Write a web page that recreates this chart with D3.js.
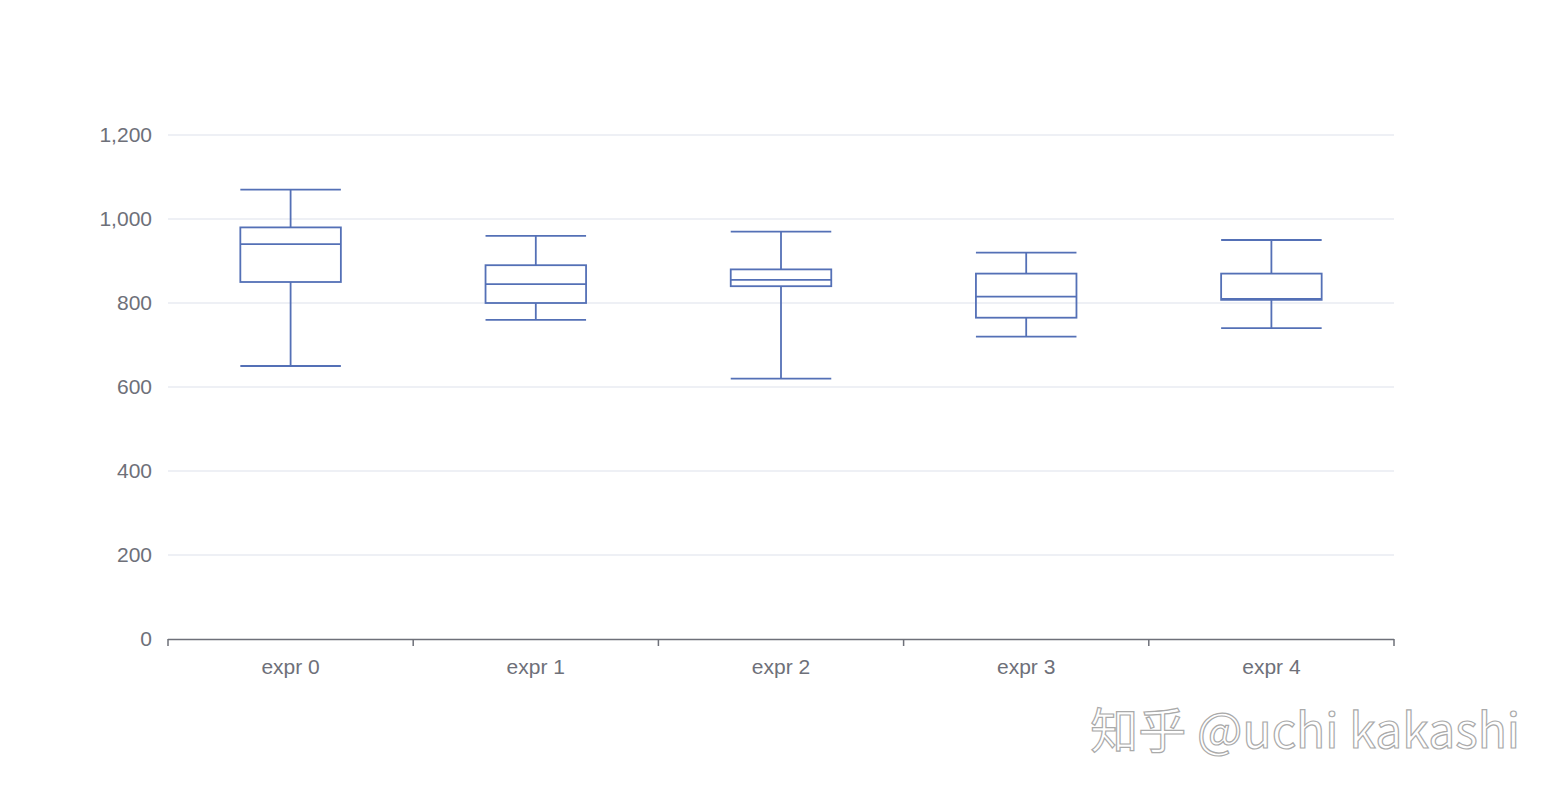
<!DOCTYPE html>
<html><head><meta charset="utf-8">
<script src="https://cdn.jsdelivr.net/npm/d3@7"></script>
<style>body{margin:0;background:#fff}</style></head>
<body><svg id="c" width="1560" height="794"></svg>
<script>
const categories = ["expr 0","expr 1","expr 2","expr 3","expr 4"];
const lows = [650, 760, 620, 720, 740];
const q1s = [850, 800, 840, 765, 807.5];
const medians = [940, 845, 855, 815, 810];
const q3s = [980, 890, 880, 870, 870];
const highs = [1070, 960, 970, 920, 950];
const yTicks = [0,200,400,600,800,1000,1200];

const svg = d3.select("#c");
const x = d3.scaleBand().domain(categories).range([168,1394]);
const y = d3.scaleLinear().domain([0,1200]).range([639,135]);
const font = "'Helvetica Neue', Arial, 'Liberation Sans', sans-serif";
const grey = "#6e7079";

svg.selectAll(".grid").data(yTicks.filter(d=>d>0)).enter().append("line")
  .attr("x1",168).attr("x2",1394).attr("y1",d=>y(d)).attr("y2",d=>y(d))
  .attr("stroke","#dde2ec").attr("stroke-width",1.2);
svg.selectAll(".yl").data(yTicks).enter().append("text")
  .attr("x",152).attr("y",d=>y(d)).attr("dy","0.35em").attr("text-anchor","end")
  .attr("fill",grey).style("font",`21px ${font}`).text(d3.format(","));
svg.append("line").attr("x1",168).attr("x2",1394).attr("y1",639.5).attr("y2",639.5).attr("stroke",grey).attr("stroke-width",1.5);
const edges = categories.map(c=>x(c)).concat([1394]);
svg.selectAll(".tk").data(edges).enter().append("line")
  .attr("x1",d=>d).attr("x2",d=>d).attr("y1",639).attr("y2",646).attr("stroke",grey).attr("stroke-width",1.5);
svg.selectAll(".xl").data(categories).enter().append("text")
  .attr("x",d=>x(d)+x.bandwidth()/2).attr("y",667).attr("dy","0.35em").attr("text-anchor","middle")
  .attr("fill",grey).style("font",`21px ${font}`).text(d=>d);

const bw = x.bandwidth()*0.41;
const col = "#5470b6";
categories.forEach((c,i)=>{
  const cx = x(c)+x.bandwidth()/2, l = cx-bw/2, r = cx+bw/2;
  const g = svg.append("g").attr("stroke",col).attr("stroke-width",1.8).attr("fill","none");
  g.append("rect").attr("x",l).attr("y",y(q3s[i])).attr("width",bw).attr("height",y(q1s[i])-y(q3s[i]));
  g.append("line").attr("x1",l).attr("x2",r).attr("y1",y(medians[i])).attr("y2",y(medians[i]));
  g.append("line").attr("x1",l).attr("x2",r).attr("y1",y(highs[i])).attr("y2",y(highs[i]));
  g.append("line").attr("x1",l).attr("x2",r).attr("y1",y(lows[i])).attr("y2",y(lows[i]));
  g.append("line").attr("x1",cx).attr("x2",cx).attr("y1",y(highs[i])).attr("y2",y(q3s[i]));
  g.append("line").attr("x1",cx).attr("x2",cx).attr("y1",y(q1s[i])).attr("y2",y(lows[i]));
});

svg.append("text").attr("x",1520).attr("y",748).attr("text-anchor","end")
  .attr("fill","#fff").attr("stroke","#aaa").attr("stroke-width",1.2)
  .style("font",`48px 'Noto Sans CJK SC', sans-serif`).text("知乎 @uchi kakashi");
</script></body></html>
